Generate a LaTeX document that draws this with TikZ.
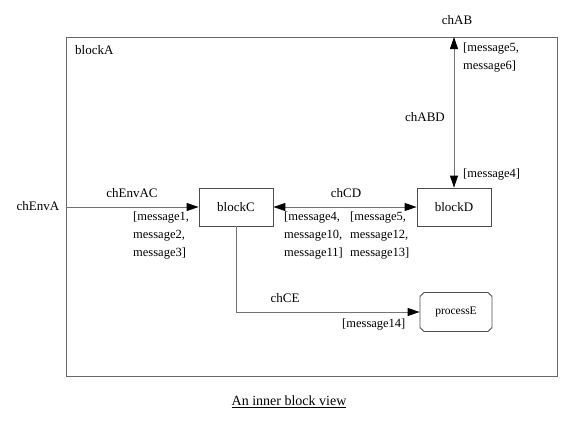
\documentclass[tikz,border=0pt]{standalone}
\usepackage{fontspec}
\setmainfont{Liberation Serif}
\usetikzlibrary{positioning,arrows.meta,shapes}

\begin{document}
\begin{tikzpicture}[x=1pt,y=-1pt]
\tikzset{block/.style={draw=black!70,line width=0.8pt,minimum width=74pt,minimum height=38pt,inner sep=0pt,font=\fontsize{13}{15}\selectfont},
  proc/.style={draw=black!70,line width=0.8pt,chamfered rectangle,chamfered rectangle xsep=2pt,chamfered rectangle ysep=2pt,minimum width=72pt,minimum height=39pt,inner sep=0pt,font=\fontsize{11.5}{14}\selectfont},
  lbl/.style={font=\fontsize{13}{15}\selectfont,inner sep=0pt},
  msg/.style={font=\fontsize{12.5}{18}\selectfont,align=left,inner sep=0pt},
  chan/.style={draw=black!55,line width=0.9pt},
  tip/.style={-{Triangle[length=12pt,width=8pt,color=black]}},
  bitip/.style={{Triangle[length=12pt,width=8pt,color=black]}-{Triangle[length=12pt,width=8pt,color=black]}}}
\useasboundingbox (0,0) rectangle (567,426);
% frame of blockA
\draw[draw=black!60,line width=0.9pt] (66,37) rectangle (557,376);
\node[lbl,anchor=west] (blockA) at (75,50) {blockA};
% inner blocks
\node[block] (blockC) at (236,207) {blockC};
\node[block] (blockD) at (454,207) {blockD};
\node[proc] (processE) at (456,312) {processE};
\coordinate (envA) at (66,207);
\coordinate (chABtop) at (454,37);
\coordinate (bend) at (236,312);
\node[lbl] (chEnvA) at (38,206) {chEnvA};
\node[lbl] (chAB) at (457,20) {chAB};
% channels
\draw[chan,tip] (envA) -- (blockC.west);
\draw[chan,bitip] (blockC.east) -- (blockD.west);
\draw[chan,bitip] (chABtop) -- (blockD.north);
\draw[chan,tip] (blockC.south) -- (bend) -- (processE.west);
% channel labels
\node[lbl] (chEnvAC) at (132,193) {chEnvAC};
\node[msg,anchor=north west] (m1) at (133,212) {[message1,\\message2,\\message3]};
\node[lbl] (chCD) at (346,193) {chCD};
\node[msg,anchor=north west] (m4) at (284,212) {[message4,\\message10,\\message11]};
\node[msg,anchor=north west] (m5) at (350,212) {[message5,\\message12,\\message13]};
\node[lbl] (chABD) at (425,117) {chABD};
\node[msg,anchor=north west] (m56) at (463,43) {[message5,\\message6]};
\node[msg,anchor=west] (m4b) at (463,175) {[message4]};
\node[lbl] (chCE) at (285,298) {chCE};
\node[msg,anchor=west] (m14) at (342,325) {[message14]};
% caption
\node[font=\fontsize{14}{16}\selectfont] (cap) at (289,402) {\underline{An inner block view}};
\end{tikzpicture}
\end{document}
